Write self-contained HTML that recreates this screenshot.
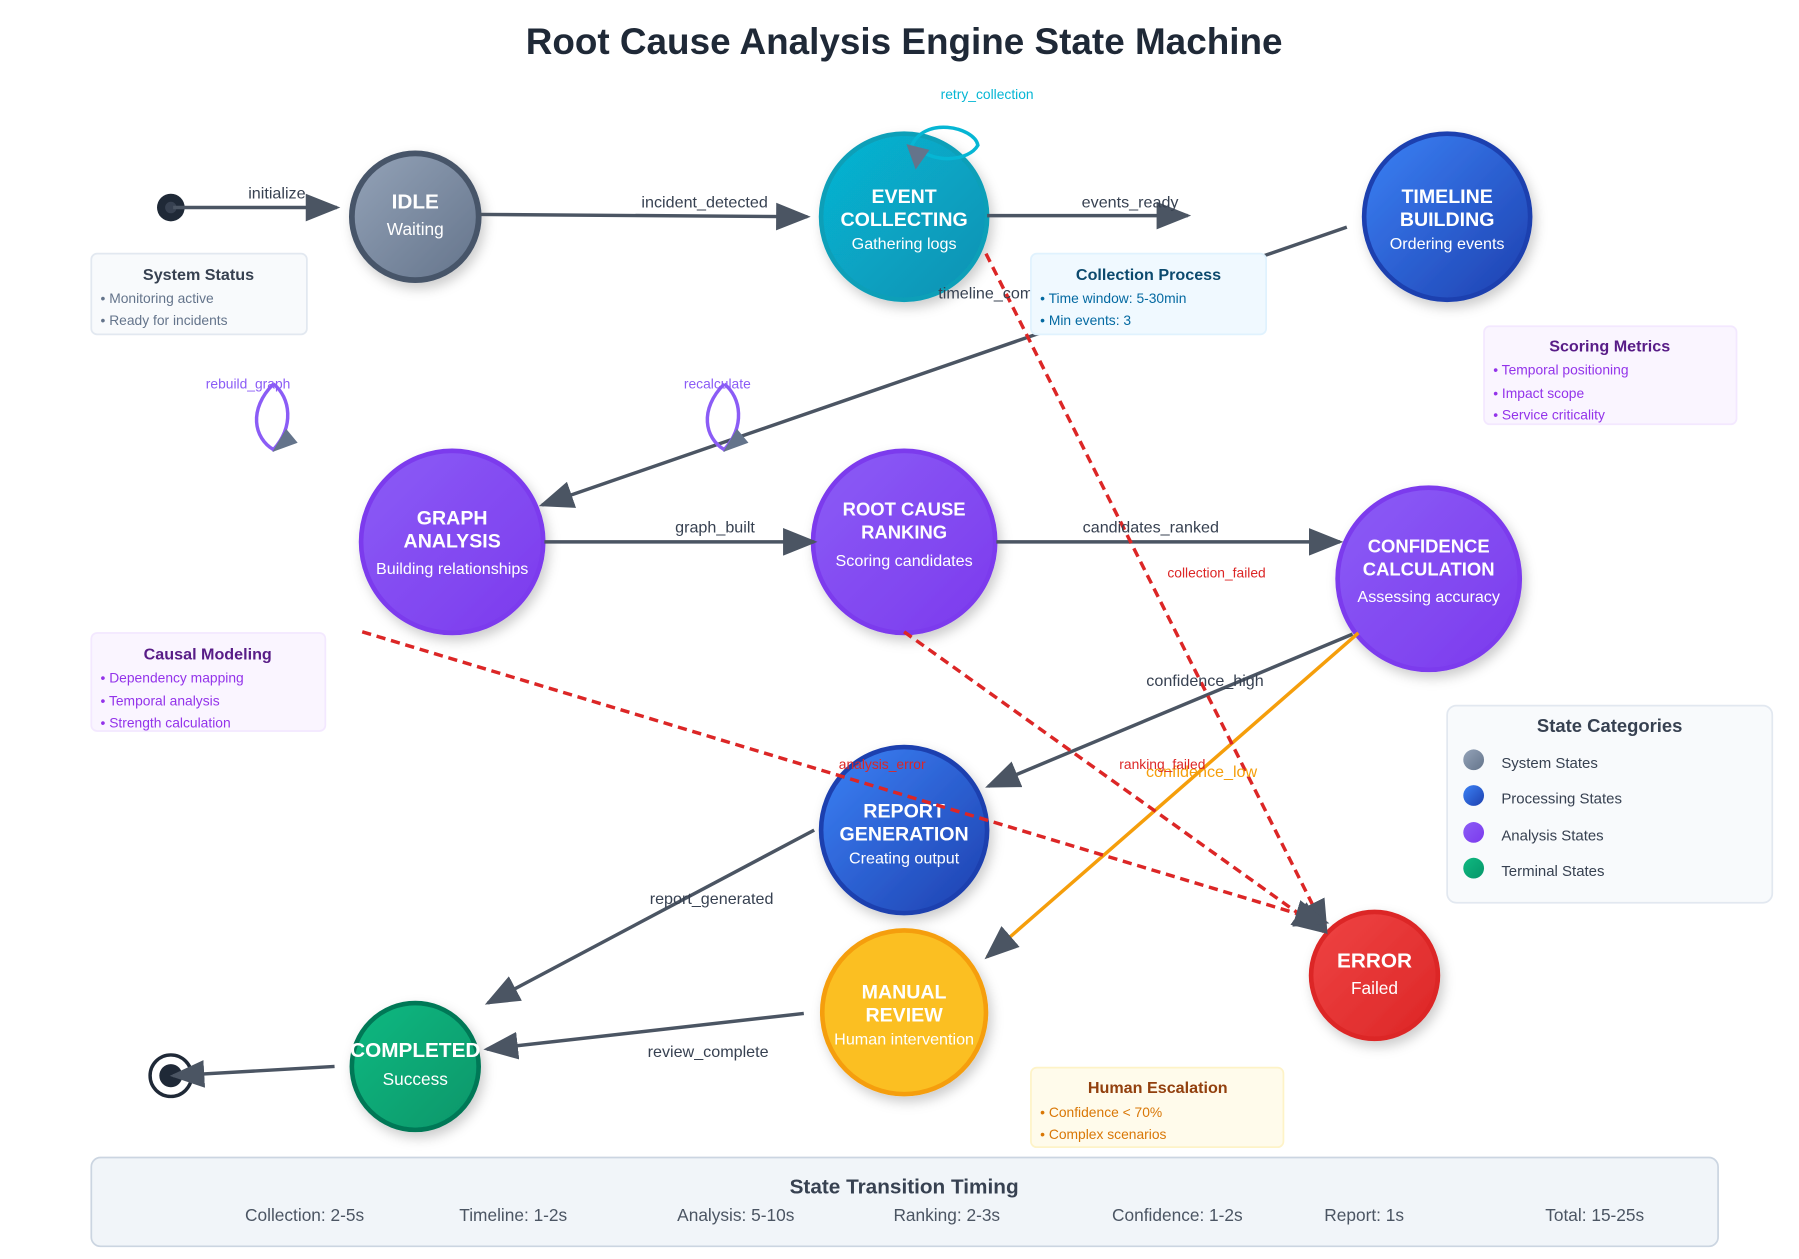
<!DOCTYPE html>
<html><head><meta charset="utf-8"><style>
html,body{margin:0;padding:0;background:#fff;}
svg{display:block;font-family:"Liberation Sans","DejaVu Sans",sans-serif;}
</style></head><body>
<svg width="1799" height="1259" viewBox="0 0 1560 1092" xmlns="http://www.w3.org/2000/svg">
<defs>
<marker id="am" viewBox="0 0 10 10" refX="9" refY="5" markerWidth="30" markerHeight="24" markerUnits="userSpaceOnUse" orient="auto" preserveAspectRatio="none"><path d="M0,0L10,5L0,10z" fill="#4b5563"/></marker>
<linearGradient id="gGray" x1="0" y1="0" x2="1" y2="1"><stop offset="0" stop-color="#94a3b8"/><stop offset="1" stop-color="#64748b"/></linearGradient>
<linearGradient id="gCyan" x1="0" y1="0" x2="1" y2="1"><stop offset="0" stop-color="#06b6d4"/><stop offset="1" stop-color="#0891b2"/></linearGradient>
<linearGradient id="gBlue" x1="0" y1="0" x2="1" y2="1"><stop offset="0" stop-color="#3b82f6"/><stop offset="1" stop-color="#1e40af"/></linearGradient>
<linearGradient id="gPurp" x1="0" y1="0" x2="1" y2="1"><stop offset="0" stop-color="#8b5cf6"/><stop offset="1" stop-color="#7c3aed"/></linearGradient>
<linearGradient id="gGreen" x1="0" y1="0" x2="1" y2="1"><stop offset="0" stop-color="#10b981"/><stop offset="1" stop-color="#059669"/></linearGradient>
<linearGradient id="gYel" x1="0" y1="0" x2="1" y2="1"><stop offset="0" stop-color="#fbbf24"/><stop offset="1" stop-color="#fbbf24"/></linearGradient>
<linearGradient id="gRed" x1="0" y1="0" x2="1" y2="1"><stop offset="0" stop-color="#ef4444"/><stop offset="1" stop-color="#dc2626"/></linearGradient>
<filter id="sh" x="-30%" y="-30%" width="160%" height="160%"><feDropShadow dx="3" dy="5" stdDeviation="5" flood-color="#000" flood-opacity="0.2"/></filter>
</defs>

<text x="784" y="47" text-anchor="middle" font-size="32" font-weight="bold" fill="#1f2937">Root Cause Analysis Engine State Machine</text>

<!-- start/end -->
<circle cx="148" cy="180" r="12" fill="#1f2937"/><circle cx="148" cy="180" r="5" fill="#374151"/>
<circle cx="148" cy="933" r="18" fill="#fff" stroke="#1f2937" stroke-width="3"/><circle cx="148" cy="933" r="10" fill="#1f2937"/>

<!-- nodes -->
<g filter="url(#sh)">
<circle cx="360" cy="188" r="55" fill="url(#gGray)" stroke="#475569" stroke-width="5"/>
<circle cx="784" cy="188" r="72" fill="url(#gCyan)" stroke="#0e9fb8" stroke-width="4"/>
<circle cx="1255" cy="188" r="72" fill="url(#gBlue)" stroke="#1e40af" stroke-width="4"/>
<circle cx="392" cy="470" r="79" fill="url(#gPurp)" stroke="#7c3aed" stroke-width="4"/>
<circle cx="784" cy="470" r="79" fill="url(#gPurp)" stroke="#7c3aed" stroke-width="4"/>
<circle cx="1239" cy="502" r="79" fill="url(#gPurp)" stroke="#7c3aed" stroke-width="4"/>
<circle cx="784" cy="720" r="72" fill="url(#gBlue)" stroke="#1e40af" stroke-width="4"/>
<circle cx="784" cy="878" r="71" fill="url(#gYel)" stroke="#f59e0b" stroke-width="4"/>
<circle cx="360" cy="925" r="55" fill="url(#gGreen)" stroke="#047857" stroke-width="4"/>
<circle cx="1192" cy="846" r="55" fill="url(#gRed)" stroke="#dc2626" stroke-width="4"/>
</g>
<g fill="#fff" text-anchor="middle">
<text x="360" y="181" font-size="18" font-weight="bold">IDLE</text><text x="360" y="204" font-size="15">Waiting</text>
<text x="784" y="176" font-size="17" font-weight="bold">EVENT</text><text x="784" y="196" font-size="17" font-weight="bold">COLLECTING</text><text x="784" y="216" font-size="14">Gathering logs</text>
<text x="1255" y="176" font-size="17" font-weight="bold">TIMELINE</text><text x="1255" y="196" font-size="17" font-weight="bold">BUILDING</text><text x="1255" y="216" font-size="14">Ordering events</text>
<text x="392" y="455" font-size="17" font-weight="bold">GRAPH</text><text x="392" y="475" font-size="17" font-weight="bold">ANALYSIS</text><text x="392" y="498" font-size="14">Building relationships</text>
<text x="784" y="447" font-size="16" font-weight="bold">ROOT CAUSE</text><text x="784" y="467" font-size="16" font-weight="bold">RANKING</text><text x="784" y="491" font-size="14">Scoring candidates</text>
<text x="1239" y="479" font-size="16" font-weight="bold">CONFIDENCE</text><text x="1239" y="499" font-size="16" font-weight="bold">CALCULATION</text><text x="1239" y="522" font-size="14">Assessing accuracy</text>
<text x="784" y="709" font-size="17" font-weight="bold">REPORT</text><text x="784" y="729" font-size="17" font-weight="bold">GENERATION</text><text x="784" y="749" font-size="14">Creating output</text>
<text x="784" y="866" font-size="17" font-weight="bold">MANUAL</text><text x="784" y="886" font-size="17" font-weight="bold">REVIEW</text><text x="784" y="906" font-size="14">Human intervention</text>
<text x="360" y="917" font-size="18" font-weight="bold">COMPLETED</text><text x="360" y="941" font-size="15">Success</text>
<text x="1192" y="839" font-size="18" font-weight="bold">ERROR</text><text x="1192" y="862" font-size="15">Failed</text>
</g>

<!-- edges -->
<g stroke="#4b5563" stroke-width="3" fill="none">
<line x1="150" y1="180" x2="292" y2="180" marker-end="url(#am)"/>
<line x1="416" y1="186" x2="700" y2="188" marker-end="url(#am)"/>
<line x1="856" y1="187" x2="1030" y2="187" marker-end="url(#am)"/>
<line x1="1168" y1="197" x2="470" y2="438" marker-end="url(#am)"/>
<line x1="472" y1="470" x2="706" y2="470" marker-end="url(#am)"/>
<line x1="864" y1="470" x2="1162" y2="470" marker-end="url(#am)"/>
<line x1="1173" y1="550" x2="857" y2="682" marker-end="url(#am)"/>
<line x1="706" y1="720" x2="423" y2="870" marker-end="url(#am)"/>
<line x1="697" y1="879" x2="422" y2="910" marker-end="url(#am)"/>
<line x1="290" y1="925" x2="150" y2="933" marker-end="url(#am)"/>
</g>
<line x1="1178" y1="549" x2="856" y2="830" stroke="#f59e0b" stroke-width="3" marker-end="url(#am)"/>
<g stroke="#dc2626" stroke-width="3" stroke-dasharray="8,5" fill="none">
<line x1="855" y1="220" x2="1150" y2="808" marker-end="url(#am)"/>
<line x1="784" y1="548" x2="1148" y2="808" marker-end="url(#am)"/>
<line x1="314" y1="548" x2="1150" y2="800" marker-end="url(#am)"/>
</g>

<!-- self loops -->
<path d="M790,128 C800,100 845,110 848,126 C840,140 810,142 795,128" stroke="#06b6d4" stroke-width="3" fill="none"/>
<path d="M786,125 L806,130 L794,147 Z" fill="#64748b"/>
<path d="M237,333 C215,355 220,380 237,390 C255,370 252,345 237,333" stroke="#8b5cf6" stroke-width="3" fill="none"/>
<path d="M236,392 L248,372 L258,384 Z" fill="#64748b"/>
<path d="M628,333 C606,355 611,380 628,390 C646,370 643,345 628,333" stroke="#8b5cf6" stroke-width="3" fill="none"/>
<path d="M627,392 L639,372 L649,384 Z" fill="#64748b"/>

<!-- edge labels -->
<g font-size="14" fill="#374151" text-anchor="middle">
<text x="240" y="172">initialize</text>
<text x="611" y="180">incident_detected</text>
<text x="980" y="180">events_ready</text>
<text x="870" y="259">timeline_complete</text>
<text x="620" y="462">graph_built</text>
<text x="998" y="462">candidates_ranked</text>
<text x="1045" y="595">confidence_high</text>
<text x="617" y="784">report_generated</text>
<text x="614" y="917">review_complete</text>
</g>
<text x="1042" y="674" font-size="14" fill="#f59e0b" text-anchor="middle">confidence_low</text>
<g font-size="12" fill="#dc2626" text-anchor="middle">
<text x="1055" y="501">collection_failed</text>
<text x="1008" y="667">ranking_failed</text>
<text x="765" y="667">analysis_error</text>
</g>
<text x="856" y="86" font-size="12" fill="#06b6d4" text-anchor="middle">retry_collection</text>
<text x="215" y="337" font-size="12" fill="#8b5cf6" text-anchor="middle">rebuild_graph</text>
<text x="622" y="337" font-size="12" fill="#8b5cf6" text-anchor="middle">recalculate</text>

<!-- notes -->
<rect x="79" y="220" width="187" height="70" rx="5" fill="#f8fafc" stroke="#e2e8f0" stroke-width="1.5"/>
<text x="172" y="243" font-size="14" font-weight="bold" fill="#374151" text-anchor="middle">System Status</text>
<text x="87" y="263" font-size="12" fill="#64748b">• Monitoring active</text>
<text x="87" y="282" font-size="12" fill="#64748b">• Ready for incidents</text>

<rect x="894" y="220" width="204" height="70" rx="5" fill="#f0f9ff" stroke="#e0f2fe" stroke-width="1.5"/>
<text x="996" y="243" font-size="14" font-weight="bold" fill="#0c4a6e" text-anchor="middle">Collection Process</text>
<text x="902" y="263" font-size="12" fill="#0369a1">• Time window: 5-30min</text>
<text x="902" y="282" font-size="12" fill="#0369a1">• Min events: 3</text>

<rect x="1287" y="283" width="219" height="85" rx="5" fill="#faf5ff" stroke="#f3e8ff" stroke-width="1.5"/>
<text x="1396" y="305" font-size="14" font-weight="bold" fill="#581c87" text-anchor="middle">Scoring Metrics</text>
<text x="1295" y="325" font-size="12" fill="#9333ea">• Temporal positioning</text>
<text x="1295" y="345" font-size="12" fill="#9333ea">• Impact scope</text>
<text x="1295" y="364" font-size="12" fill="#9333ea">• Service criticality</text>

<rect x="79" y="549" width="203" height="85" rx="5" fill="#faf5ff" stroke="#f3e8ff" stroke-width="1.5"/>
<text x="180" y="572" font-size="14" font-weight="bold" fill="#581c87" text-anchor="middle">Causal Modeling</text>
<text x="87" y="592" font-size="12" fill="#9333ea">• Dependency mapping</text>
<text x="87" y="612" font-size="12" fill="#9333ea">• Temporal analysis</text>
<text x="87" y="631" font-size="12" fill="#9333ea">• Strength calculation</text>

<rect x="894" y="926" width="219" height="69" rx="5" fill="#fffbeb" stroke="#fef3c7" stroke-width="1.5"/>
<text x="1004" y="948" font-size="14" font-weight="bold" fill="#92400e" text-anchor="middle">Human Escalation</text>
<text x="902" y="969" font-size="12" fill="#d97706">• Confidence &lt; 70%</text>
<text x="902" y="988" font-size="12" fill="#d97706">• Complex scenarios</text>

<!-- legend -->
<rect x="1255" y="612" width="282" height="171" rx="8" fill="#f8fafc" stroke="#e2e8f0" stroke-width="1.5"/>
<text x="1396" y="635" font-size="16" font-weight="bold" fill="#374151" text-anchor="middle">State Categories</text>
<circle cx="1278" cy="659" r="9" fill="url(#gGray)"/><text x="1302" y="666" font-size="13" fill="#374151">System States</text>
<circle cx="1278" cy="690" r="9" fill="url(#gBlue)"/><text x="1302" y="697" font-size="13" fill="#374151">Processing States</text>
<circle cx="1278" cy="722" r="9" fill="url(#gPurp)"/><text x="1302" y="729" font-size="13" fill="#374151">Analysis States</text>
<circle cx="1278" cy="753" r="9" fill="url(#gGreen)"/><text x="1302" y="760" font-size="13" fill="#374151">Terminal States</text>

<!-- timing -->
<rect x="79" y="1004" width="1411" height="77" rx="8" fill="#f1f5f9" stroke="#cbd5e1" stroke-width="1.5"/>
<text x="784" y="1035" font-size="18" font-weight="bold" fill="#374151" text-anchor="middle">State Transition Timing</text>
<g font-size="15" fill="#4b5563" text-anchor="middle">
<text x="264" y="1059">Collection: 2-5s</text>
<text x="445" y="1059">Timeline: 1-2s</text>
<text x="638" y="1059">Analysis: 5-10s</text>
<text x="821" y="1059">Ranking: 2-3s</text>
<text x="1021" y="1059">Confidence: 1-2s</text>
<text x="1183" y="1059">Report: 1s</text>
<text x="1383" y="1059">Total: 15-25s</text>
</g>
</svg>
</body></html>
